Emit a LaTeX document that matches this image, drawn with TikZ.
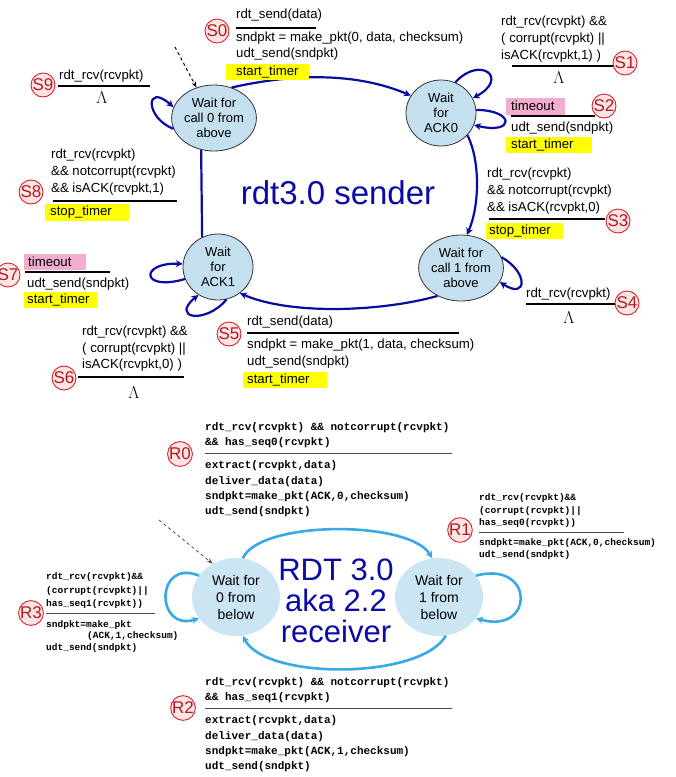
\documentclass[tikz,border=0pt]{standalone}
\usepackage{fontspec}
\setmainfont{Liberation Sans}
\newfontfamily\monof{Liberation Mono}
\usetikzlibrary{arrows.meta,shapes.geometric}
\definecolor{dblue}{RGB}{10,10,165}
\definecolor{lblue}{RGB}{55,170,230}
\definecolor{sfill}{RGB}{196,224,238}
\definecolor{rfill}{RGB}{203,230,242}
\definecolor{tagred}{RGB}{215,35,45}
\definecolor{tagfill}{RGB}{255,228,228}
\definecolor{hlyel}{RGB}{255,255,0}
\definecolor{hlpink}{RGB}{242,172,205}
\tikzset{
 sstate/.style={ellipse,draw=black!80,line width=0.8pt,fill=sfill,align=center,inner sep=0pt,font=\fontsize{13}{15}\selectfont},
 rstate/.style={ellipse,fill=rfill,align=center,inner sep=0pt,font=\fontsize{14}{17}\selectfont},
 sarr/.style={draw=dblue,line width=2.2pt,-{Stealth[length=7pt,width=7pt]}},
 rarr/.style={draw=lblue,line width=2.6pt,-{Stealth[length=7pt,width=7pt]}},
 tag/.style={circle,draw=tagred,line width=0.9pt,fill=tagfill,text=tagred!80!black,minimum size=24pt,inner sep=0pt,font=\fontsize{17}{17}\selectfont},
 st/.style={anchor=west,inner sep=0pt,font=\fontsize{13.2}{15}\selectfont},
 mt/.style={anchor=west,inner sep=0pt,font=\monof\bfseries\fontsize{11}{12}\selectfont},
 ms/.style={anchor=west,inner sep=0pt,font=\monof\bfseries\fontsize{9.5}{11}\selectfont},
 lam/.style={font=\fontsize{16}{16}\selectfont},
 rule/.style={line width=1.1pt},
 yel/.style={fill=hlyel},
 pnk/.style={fill=hlpink},
}
\begin{document}
\begin{tikzpicture}[x=1pt,y=-1pt]
\useasboundingbox (0,0) rectangle (676,777);
% ---------- sender states
\node[sstate,minimum width=74pt,minimum height=66pt] (c0) at (214,118) {Wait for\\call 0 from\\above};
\node[sstate,minimum width=70pt,minimum height=66pt] (a0) at (441,113) {Wait\\for\\ACK0};
\node[sstate,minimum width=70pt,minimum height=66pt] (a1) at (218,267) {Wait\\for\\ACK1};
\node[sstate,minimum width=74pt,minimum height=66pt] (c1) at (461,268) {Wait for\\call 1 from\\above};
\node[text=dblue,font=\fontsize{33}{33}\selectfont] (st) at (338,193) {rdt3.0 sender};
% transitions
\draw[sarr] (c0.60) .. controls (300,72) and (360,74) .. (a0.150);
\draw[sarr] (a0.-40) .. controls (480,160) and (480,205) .. (c1.80);
\draw[sarr] (c1.-130) .. controls (380,312) and (290,315) .. (a1.-50);
\draw[draw=dblue,line width=2.2pt] (a1.118) -- (c0.-112);
\draw[sarr] (c0.-165) .. controls (145,118) and (145,82) .. (c0.165);
\draw[sarr] (a0.65) .. controls (480,55) and (510,78) .. (a0.25);
\draw[sarr] (a0.5) .. controls (515,110) and (515,135) .. (a0.-20);
\draw[sarr] (a1.-160) .. controls (140,292) and (140,262) .. (a1.175);
\draw[sarr] (a1.-75) .. controls (205,325) and (170,318) .. (a1.-125);
\draw[sarr] (c1.15) .. controls (528,272) and (528,300) .. (c1.-20);
\coordinate (init0) at (175,47);
\draw[dashed,line width=1pt,-{Stealth[length=6pt]}] (init0) -- (c0.120);
% S0
\node[tag] (s0) at (217,31) {S0};
\node[st] (s0a) at (236,15) {rdt\_send(data)};
\draw[rule] (236,28) -- (316,28);
\node[st] (s0b) at (236,38) {sndpkt = make\_pkt(0, data, checksum)};
\node[st] (s0c) at (236,54) {udt\_send(sndpkt)};
\fill[yel] (226,64) rectangle (309,80);
\node[st] (s0d) at (236,72) {start\_timer};
% S1
\node[st] (s1a) at (501,22) {rdt\_rcv(rcvpkt) \&\&};
\node[st] (s1b) at (501,39) {( corrupt(rcvpkt) ||};
\node[st] (s1c) at (501,56) {isACK(rcvpkt,1) )};
\draw[rule] (512,66) -- (615,66);
\node[lam] (s1l) at (559,78) {$\Lambda$};
\node[tag] (s1) at (625,63) {S1};
% S2
\fill[pnk] (506,98) rectangle (565,115);
\node[st] (s2a) at (511,106) {timeout};
\draw[rule] (511,116) -- (595,116);
\node[tag] (s2) at (604,106) {S2};
\node[st] (s2b) at (511,128) {udt\_send(sndpkt)};
\fill[yel] (506,137) rectangle (592,153);
\node[st] (s2c) at (511,145) {start\_timer};
% S3
\node[st] (s3a) at (487,174) {rdt\_rcv(rcvpkt)};
\node[st] (s3b) at (487,191) {\&\& notcorrupt(rcvpkt)};
\node[st] (s3c) at (487,208) {\&\& isACK(rcvpkt,0)};
\draw[rule] (489,219) -- (605,219);
\fill[yel] (486,223) rectangle (563,239);
\node[st] (s3d) at (489,231) {stop\_timer};
\node[tag] (s3) at (618,221) {S3};
% S4
\node[st] (s4a) at (526,294) {rdt\_rcv(rcvpkt)};
\draw[rule] (526,304) -- (615,304);
\node[lam] (s4l) at (569,318) {$\Lambda$};
\node[tag] (s4) at (627,303) {S4};
% S5
\node[tag] (s5) at (229,334) {S5};
\node[st] (s5a) at (247,322) {rdt\_send(data)};
\draw[rule] (247,333) -- (459,333);
\node[st] (s5b) at (247,345) {sndpkt = make\_pkt(1, data, checksum)};
\node[st] (s5c) at (247,362) {udt\_send(sndpkt)};
\fill[yel] (243,372) rectangle (327,388);
\node[st] (s5d) at (247,380) {start\_timer};
% S6
\node[st] (s6a) at (82,332) {rdt\_rcv(rcvpkt) \&\&};
\node[st] (s6b) at (82,349) {( corrupt(rcvpkt) ||};
\node[st] (s6c) at (82,365) {isACK(rcvpkt,0) )};
\draw[rule] (78,377) -- (184,377);
\node[lam] (s6l) at (134,393) {$\Lambda$};
\node[tag] (s6) at (64,378) {S6};
% S7
\fill[pnk] (24,254) rectangle (86,270);
\node[st] (s7a) at (28,262) {timeout};
\draw[rule] (25,272) -- (110,272);
\node[st] (s7b) at (27,284) {udt\_send(sndpkt)};
\fill[yel] (24,292) rectangle (97,308);
\node[st] (s7c) at (27,300) {start\_timer};
\node[tag] (s7) at (8,275) {S7};
% S8
\node[st] (s8a) at (51,155) {rdt\_rcv(rcvpkt)};
\node[st] (s8b) at (51,172) {\&\& notcorrupt(rcvpkt)};
\node[st] (s8c) at (51,189) {\&\& isACK(rcvpkt,1)};
\draw[rule] (53,201) -- (177,201);
\fill[yel] (45,204) rectangle (129,221);
\node[st] (s8d) at (50,212) {stop\_timer};
\node[tag] (s8) at (31,192) {S8};
% S9
\node[tag] (s9) at (43,85) {S9};
\node[st] (s9a) at (59,76) {rdt\_rcv(rcvpkt)};
\draw[rule] (58,86) -- (150,86);
\node[lam] (s9l) at (102,98) {$\Lambda$};
% ---------- receiver
\node[rstate,minimum width=88pt,minimum height=78pt] (r0) at (236,597) {Wait for\\0 from\\below};
\node[rstate,minimum width=88pt,minimum height=78pt] (r1) at (439,597) {Wait for\\1 from\\below};
\node[text=dblue,align=center,font=\fontsize{31}{31}\selectfont] (rt) at (336,601) {RDT 3.0\\aka 2.2\\receiver};
\draw[rarr] (r0.80) .. controls (260,520) and (410,520) .. (r1.100);
\draw[rarr] (r1.-80) .. controls (420,680) and (265,680) .. (r0.-80);
\draw[rarr] (r0.150) .. controls (155,558) and (155,632) .. (r0.-150);
\draw[rarr] (r1.30) .. controls (535,560) and (535,635) .. (r1.-30);
\coordinate (init1) at (159,520);
\draw[dashed,line width=0.8pt,draw=black!70,-{Stealth[length=6pt]}] (init1) -- (r0.125);
% R0
\node[tag] (r0t) at (180,454) {R0};
\node[mt] (r0a) at (205,428) {rdt\_rcv(rcvpkt) \&\& notcorrupt(rcvpkt)};
\node[mt] (r0b) at (205,443) {\&\& has\_seq0(rcvpkt)};
\draw[line width=0.9pt,black!70] (205,453) -- (452,453);
\node[mt] (r0c) at (205,466) {extract(rcvpkt,data)};
\node[mt] (r0d) at (205,482) {deliver\_data(data)};
\node[mt] (r0e) at (205,497) {sndpkt=make\_pkt(ACK,0,checksum)};
\node[mt] (r0f) at (205,512) {udt\_send(sndpkt)};
% R1
\node[tag] (r1t) at (460,530) {R1};
\node[ms] (r1a) at (479,498) {rdt\_rcv(rcvpkt)\&\&};
\node[ms] (r1b) at (479,511) {(corrupt(rcvpkt)||};
\node[ms] (r1c) at (479,523) {has\_seq0(rcvpkt))};
\draw[line width=0.9pt,black!70] (479,532) -- (624,532);
\node[ms] (r1d) at (479,543) {sndpkt=make\_pkt(ACK,0,checksum)};
\node[ms] (r1e) at (479,555) {udt\_send(sndpkt)};
% R3
\node[tag] (r3t) at (31,613) {R3};
\node[ms] (r3a) at (46,577) {rdt\_rcv(rcvpkt)\&\&};
\node[ms] (r3b) at (46,591) {(corrupt(rcvpkt)||};
\node[ms] (r3c) at (46,604) {has\_seq1(rcvpkt))};
\draw[line width=0.9pt,black!70] (46,613) -- (155,613);
\node[ms] (r3d) at (46,625) {sndpkt=make\_pkt};
\node[ms] (r3e) at (87,636) {(ACK,1,checksum)};
\node[ms] (r3f) at (46,648) {udt\_send(sndpkt)};
% R2
\node[tag] (r2t) at (183,708) {R2};
\node[mt] (r2a) at (205,683) {rdt\_rcv(rcvpkt) \&\& notcorrupt(rcvpkt)};
\node[mt] (r2b) at (205,698) {\&\& has\_seq1(rcvpkt)};
\draw[line width=0.9pt,black!70] (205,708) -- (452,708);
\node[mt] (r2c) at (205,721) {extract(rcvpkt,data)};
\node[mt] (r2d) at (205,737) {deliver\_data(data)};
\node[mt] (r2e) at (205,752) {sndpkt=make\_pkt(ACK,1,checksum)};
\node[mt] (r2f) at (205,767) {udt\_send(sndpkt)};
\end{tikzpicture}
\end{document}
